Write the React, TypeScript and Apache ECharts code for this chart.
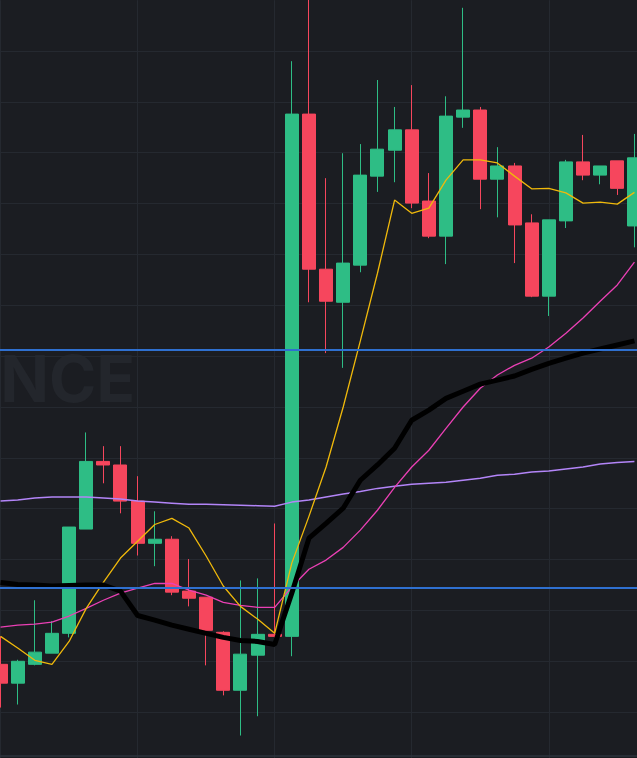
import React, { useEffect, useRef } from "react";
import * as echarts from "echarts";

const categories = [
  "06-12 10:00", "06-12 11:00", "06-12 12:00", "06-12 13:00", "06-12 14:00", "06-12 15:00",
  "06-12 16:00", "06-12 17:00", "06-12 18:00", "06-12 19:00", "06-12 20:00", "06-12 21:00",
  "06-12 22:00", "06-12 23:00", "06-13 00:00", "06-13 01:00", "06-13 02:00", "06-13 03:00",
  "06-13 04:00", "06-13 05:00", "06-13 06:00", "06-13 07:00", "06-13 08:00", "06-13 09:00",
  "06-13 10:00", "06-13 11:00", "06-13 12:00", "06-13 13:00", "06-13 14:00", "06-13 15:00",
  "06-13 16:00", "06-13 17:00", "06-13 18:00", "06-13 19:00", "06-13 20:00", "06-13 21:00",
  "06-13 22:00", "06-13 23:00",
];

const opens = [11.94, 11.57, 11.94, 12.16, 12.55, 14.6, 15.93, 15.86, 15.15, 14.32, 14.4, 13.38, 13.26, 12.57, 11.43, 12.12, 12.53, 12.49, 22.76, 19.71, 19.06, 19.79, 21.54, 22.05, 22.45, 21.05, 20.36, 22.7, 22.84, 21.48, 21.74, 20.62, 19.18, 20.66, 21.82, 21.56, 21.84, 20.56];
const closes = [11.57, 12.0, 12.18, 12.55, 14.64, 15.93, 15.86, 15.15, 14.32, 14.4, 13.36, 13.24, 12.61, 11.43, 12.14, 12.53, 12.49, 22.76, 19.71, 19.08, 19.83, 21.56, 22.07, 22.45, 21.01, 20.36, 22.72, 22.84, 21.48, 21.74, 20.58, 19.18, 20.68, 21.82, 21.56, 21.74, 21.3, 21.9];
const lows = [11.09, 11.15, 11.92, 12.16, 12.47, 14.6, 15.5, 14.91, 14.08, 13.87, 13.3, 13.08, 11.92, 11.33, 10.54, 10.92, 12.47, 12.1, 19.06, 18.06, 17.77, 19.65, 21.23, 21.42, 20.91, 20.32, 19.81, 22.49, 20.89, 20.73, 19.83, 19.16, 18.79, 20.52, 21.46, 21.38, 21.17, 20.14];
const highs = [12.49, 12.03, 13.2, 12.79, 14.64, 16.5, 16.23, 16.23, 15.64, 14.95, 14.46, 14.01, 13.26, 12.59, 13.59, 13.63, 14.71, 23.8, 25.3, 21.5, 21.99, 22.17, 23.43, 22.9, 23.33, 21.6, 23.11, 24.85, 22.9, 22.11, 21.8, 20.79, 20.68, 21.86, 22.35, 21.74, 21.84, 22.37];

const ma7 = [12.49, 12.26, 12.02, 11.94, 12.39, 13.04, 13.55, 14.03, 14.36, 14.69, 14.81, 14.62, 14.07, 13.48, 13.08, 12.83, 12.55, 13.93, 14.85, 15.82, 17.0, 18.3, 19.63, 21.07, 20.81, 20.91, 21.46, 21.86, 21.86, 21.8, 21.54, 21.29, 21.3, 21.21, 21.01, 21.03, 20.99, 21.22];
const ma25 = [12.67, 12.71, 12.73, 12.77, 12.89, 13.04, 13.2, 13.34, 13.44, 13.53, 13.53, 13.4, 13.3, 13.16, 13.1, 13.06, 13.06, 13.46, 13.81, 13.99, 14.24, 14.58, 14.97, 15.42, 15.82, 16.15, 16.58, 17.0, 17.37, 17.63, 17.82, 17.96, 18.18, 18.45, 18.75, 19.08, 19.4, 19.85];
const ma99 = [15.15, 15.17, 15.21, 15.23, 15.23, 15.23, 15.21, 15.19, 15.15, 15.13, 15.11, 15.09, 15.09, 15.08, 15.07, 15.06, 15.05, 15.13, 15.17, 15.23, 15.29, 15.34, 15.4, 15.44, 15.48, 15.5, 15.52, 15.56, 15.6, 15.66, 15.68, 15.72, 15.74, 15.78, 15.82, 15.88, 15.91, 15.93];
const emaLine = [13.55, 13.51, 13.5, 13.48, 13.49, 13.5, 13.5, 13.38, 12.9, 12.81, 12.71, 12.63, 12.55, 12.47, 12.41, 12.39, 12.33, 13.34, 14.42, 14.71, 15.01, 15.56, 15.86, 16.19, 16.74, 16.94, 17.17, 17.31, 17.45, 17.53, 17.61, 17.74, 17.86, 17.96, 18.06, 18.14, 18.22, 18.3];

const levels = [18.12, 13.45];

const BG = "#1b1d22";
const GRID = "#252930";
const UP = "#2ebd85";
const DOWN = "#f6465d";

// the plot is a crop of a wider chart: the chart div is a little larger than the window
const SHIFT_X = 7.66;

export default function App() {
  const ref = useRef<HTMLDivElement>(null);

  useEffect(() => {
    const chart = echarts.init(ref.current as HTMLDivElement, null, { renderer: "svg" });
    const candles = categories.map((_, i) => [opens[i], closes[i], lows[i], highs[i]]);
    chart.setOption({
      animation: false,
      backgroundColor: BG,
      graphic: {
        elements: [
          {
            type: "text",
            x: SHIFT_X + 0.5,
            y: 378,
            z: -10,
            silent: true,
            style: {
              text: "NCE",
              textAlign: "left",
              textVerticalAlign: "middle",
              fill: "#23262c",
              font: "bold 64px Inter",
            },
          },
        ],
      },
      grid: { left: 0, right: 0, top: 0.17, bottom: 0, containLabel: false },
      xAxis: {
        type: "category",
        data: categories,
        boundaryGap: true,
        offset: -7.1,
        axisLine: { show: true, onZero: false, lineStyle: { color: "#2d333c", width: 1.5 } },
        axisTick: { show: false },
        axisLabel: { show: false },
        splitLine: { show: true, interval: 7, alignWithLabel: true, lineStyle: { color: GRID, width: 1 } },
      },
      yAxis: {
        type: "value",
        min: 10,
        max: 25,
        interval: 1,
        axisLine: { show: false },
        axisTick: { show: false },
        axisLabel: { show: false },
        splitLine: { show: true, showMaxLine: false, lineStyle: { color: GRID, width: 1 } },
      },
      series: [
        {
          type: "candlestick",
          data: candles,
          barWidth: 13.5,
          clip: false,
          itemStyle: { color: UP, color0: DOWN, borderColor: UP, borderColor0: DOWN, borderWidth: 1 },
          markLine: {
            silent: true,
            symbol: ["none", "none"],
            label: { show: false },
            lineStyle: { color: "#2f70d0", width: 2, type: "solid" },
            data: levels.map((v) => ({ yAxis: v })),
          },
        },
        {
          type: "line",
          data: ma99,
          symbol: "none",
          lineStyle: { color: "#b385f8", width: 1.5 },
        },
        {
          type: "line",
          data: ma25,
          symbol: "none",
          lineStyle: { color: "#eb40b5", width: 1.3 },
        },
        {
          type: "line",
          data: ma7,
          symbol: "none",
          lineStyle: { color: "#f0b90b", width: 1.3 },
        },
        {
          type: "line",
          data: emaLine,
          symbol: "none",
          lineStyle: { color: "#000000", width: 5 },
        },
      ],
    });
    return () => chart.dispose();
  }, []);

  return (
    <div
      style={{
        position: "fixed",
        left: 0,
        top: 0,
        width: 637,
        height: 758,
        overflow: "hidden",
        background: BG,
      }}
    >
      <div
        ref={ref}
        style={{ position: "absolute", left: -SHIFT_X, top: 0, width: 650.94, height: 762.6 }}
      />
    </div>
  );
}
